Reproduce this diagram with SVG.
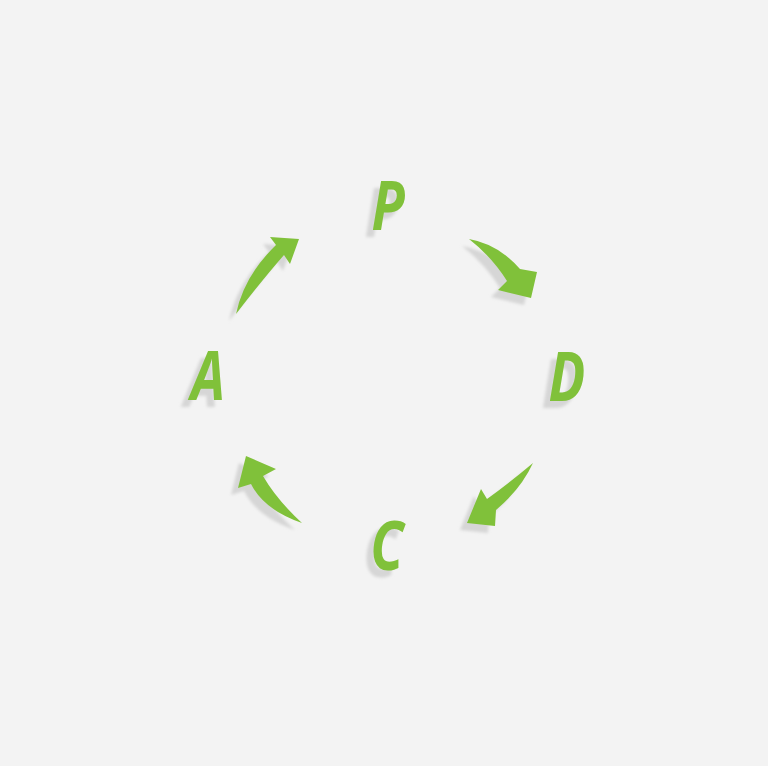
<svg xmlns="http://www.w3.org/2000/svg" width="768" height="766" viewBox="0 0 768 766">
<defs>
<filter id="soft" x="-30%" y="-30%" width="160%" height="160%"><feGaussianBlur stdDeviation="1.7"/></filter>
</defs>
<style>
.bg{fill:#f3f3f3}
.arrow{fill:#80c13a}
.shadow{fill:#d6d6d6;filter:url(#soft)}
.lbl{font-family:"Open Sans","Liberation Sans",sans-serif;font-weight:700;font-style:italic;font-size:68px;text-anchor:middle}
.lbl.g{fill:#80c13a}
.lbl.s{fill:#d6d6d6;filter:url(#soft)}
</style>
<rect class="bg" x="0" y="0" width="768" height="766"/>
<g id="connectors">
  <g id="arrow-p-d">
    <path class="shadow" transform="translate(-7,7)" d="M469,239 Q498,244 520,269 L537,272 L531,298 L498,290 L507,281 Q492,257 469,239 Z"/>
    <path class="arrow" d="M469,239 Q498,244 520,269 L537,272 L531,298 L498,290 L507,281 Q492,257 469,239 Z"/>
  </g>
  <g id="arrow-d-c">
    <path class="shadow" transform="translate(-7,7)" d="M533,463 Q521,489 496,510 L495,526 L467,523 L481,489 L487,499 Q508,484 533,463 Z"/>
    <path class="arrow" d="M533,463 Q521,489 496,510 L495,526 L467,523 L481,489 L487,499 Q508,484 533,463 Z"/>
  </g>
  <g id="arrow-c-a">
    <path class="shadow" transform="translate(-7,7)" d="M302,523 Q264,510 251,484 L238,488 L246,456 L276,469 L263,476 Q277,500 302,523 Z"/>
    <path class="arrow" d="M302,523 Q264,510 251,484 L238,488 L246,456 L276,469 L263,476 Q277,500 302,523 Z"/>
  </g>
  <g id="arrow-a-p">
    <path class="shadow" transform="translate(-7,7)" d="M236,314 Q244,276 276,245 L270,237 L299,239 L290,264 L284,255 Q263,279 236,314 Z"/>
    <path class="arrow" d="M236,314 Q244,276 276,245 L270,237 L299,239 L290,264 L284,255 Q263,279 236,314 Z"/>
  </g>
</g>
<g id="node-p">
  <text class="lbl s" transform="translate(381,237) scale(0.8,1)">P</text>
  <text class="lbl g" transform="translate(388,230) scale(0.8,1)">P</text>
</g>
<g id="node-d">
  <text class="lbl s" transform="translate(560,408) scale(0.8,1)">D</text>
  <text class="lbl g" transform="translate(567,401) scale(0.8,1)">D</text>
</g>
<g id="node-c">
  <text class="lbl s" transform="translate(380,577) scale(0.8,1)">C</text>
  <text class="lbl g" transform="translate(387,570) scale(0.8,1)">C</text>
</g>
<g id="node-a">
  <text class="lbl s" transform="translate(201,407) scale(0.8,1)">A</text>
  <text class="lbl g" transform="translate(208,400) scale(0.8,1)">A</text>
</g>
</svg>
